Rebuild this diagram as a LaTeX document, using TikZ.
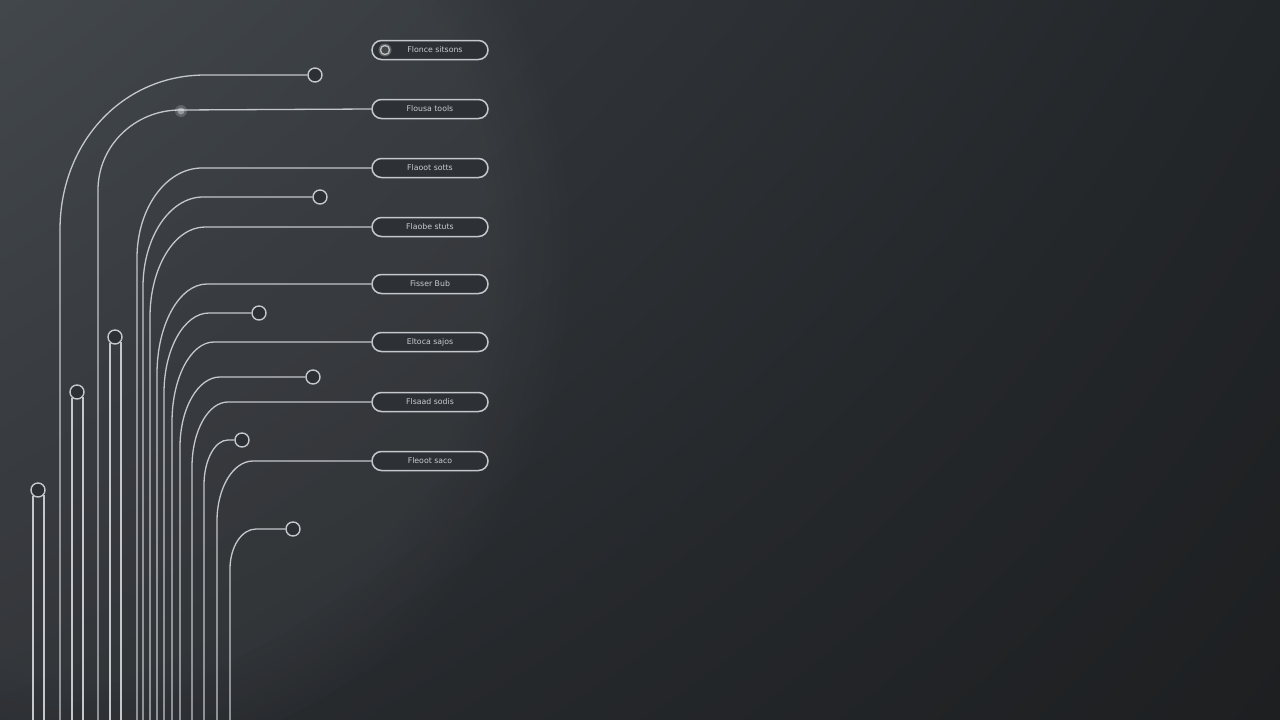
\documentclass[tikz,border=0pt]{standalone}
\usepackage{fontspec}
\setsansfont{DejaVu Sans}
\usetikzlibrary{fadings,shadings}
\definecolor{wire}{HTML}{C4C8CC}
\definecolor{pillbg}{HTML}{2D3135}
\definecolor{txt}{HTML}{C8CCD0}
\definecolor{dotbg}{HTML}{2C3034}
\definecolor{bgul}{HTML}{3A3F44}
\definecolor{bgll}{HTML}{2A2D31}
\definecolor{bgur}{HTML}{232629}
\definecolor{bglr}{HTML}{1D1F21}
\begin{document}
\begin{tikzpicture}[x=1pt,y=-1pt,
  wire/.style={draw=wire,line width=1.3pt},
  pill/.style={draw=wire,line width=1.5pt,fill=pillbg,rounded corners=9.5pt,
    minimum width=116pt,minimum height=19pt,inner sep=0pt,
    font=\sffamily\fontsize{7.8}{9}\selectfont,text=txt},
  dotnode/.style={circle,draw=wire,line width=1.4pt,fill=dotbg,minimum size=14pt,inner sep=0pt}]
\useasboundingbox (0,0) rectangle (1280,720);
\shade[upper left=bgul,lower left=bgll,upper right=bgur,lower right=bglr]
  (0,0) rectangle (1280,720);
\fill[white,opacity=0.045,path fading=circle with fuzzy edge 20 percent] (100,250) ellipse (480 and 520);
\coordinate (bot) at (0,720);
% pills
\node[pill] (p1) at (430,50) {\hspace{10pt}Flonce sitsons};
\node[pill] (p2) at (430,109) {Flousa tools};
\node[pill] (p3) at (430,168) {Flaoot sotts};
\node[pill] (p4) at (430,227) {Flaobe stuts};
\node[pill] (p5) at (430,284) {Fisser Bub};
\node[pill] (p6) at (430,342) {Eltoca sajos};
\node[pill] (p7) at (430,402) {Flsaad sodis};
\node[pill] (p8) at (430,461) {Fleoot saco};
\fill[wire,opacity=0.85] (385,50) circle (4.5);
\fill[white,opacity=0.25] (385,50) circle (6.5);
% terminal circles
\node[dotnode] (cA) at (315,75) {};
\node[dotnode] (cD) at (320,197) {};
\node[dotnode] (cG) at (259,313) {};
\node[dotnode] (cI) at (313,377) {};
\node[dotnode] (cK) at (242,440) {};
\node[dotnode] (cM) at (293,529) {};
\node[dotnode] (s1) at (38,490) {};
\node[dotnode] (s2) at (77,392) {};
\node[dotnode] (s3) at (115,337) {};
% wires
\draw[wire] (cA.west) -- (205,75) .. controls (122.7,75) and (60,142.2) .. (60,230) -- (60,720);
\draw[wire] (p2.west) -- (180,110) .. controls (134.7,110) and (98,145.8) .. (98,190) -- (98,720);
\draw[wire] (p3.west) -- (202,168) .. controls (166.1,168) and (137,208.3) .. (137,258) -- (137,720);
\draw[wire] (cD.west) -- (203,197) .. controls (169.9,197) and (143,237.3) .. (143,287) -- (143,720);
\draw[wire] (p4.west) -- (205,227) .. controls (174.6,227) and (150,267.3) .. (150,317) -- (150,720);
\draw[wire] (p5.west) -- (207,284) .. controls (179.4,284) and (157,324.3) .. (157,374) -- (157,720);
\draw[wire] (cG.west) -- (209,313) .. controls (184.2,313) and (164,348.8) .. (164,393) -- (164,720);
\draw[wire] (p6.west) -- (214,342) .. controls (190.8,342) and (172,377.8) .. (172,422) -- (172,720);
\draw[wire] (cI.west) -- (220,377) .. controls (198,377) and (180,408.4) .. (180,447) -- (180,720);
\draw[wire] (p7.west) -- (228,402) .. controls (208.1,402) and (192,431.1) .. (192,467) -- (192,720);
\draw[wire] (cK.west) -- (228,440) .. controls (214.8,440) and (204,460.2) .. (204,485) -- (204,720);
\draw[wire] (p8.west) -- (253,461) .. controls (233.1,461) and (217,487.9) .. (217,521) -- (217,720);
\draw[wire] (cM.west) -- (256,529) .. controls (241.6,529) and (230,546.9) .. (230,569) -- (230,720);
% stubs
\draw[wire] (s1.-130) -- (s1.-130 |- bot);
\draw[wire] (s1.-40) -- (s1.-40 |- bot);
\draw[wire] (s2.-130) -- (s2.-130 |- bot);
\draw[wire] (s2.-40) -- (s2.-40 |- bot);
\draw[wire] (s3.-130) -- (s3.-130 |- bot);
\draw[wire] (s3.-40) -- (s3.-40 |- bot);
% glow spot
\node[circle,fill=white,opacity=0.18,minimum size=12pt,inner sep=0pt] (glow) at (181,111) {};
\fill[white,opacity=0.35] (glow.center) circle (3.5);
\end{tikzpicture}
\end{document}
